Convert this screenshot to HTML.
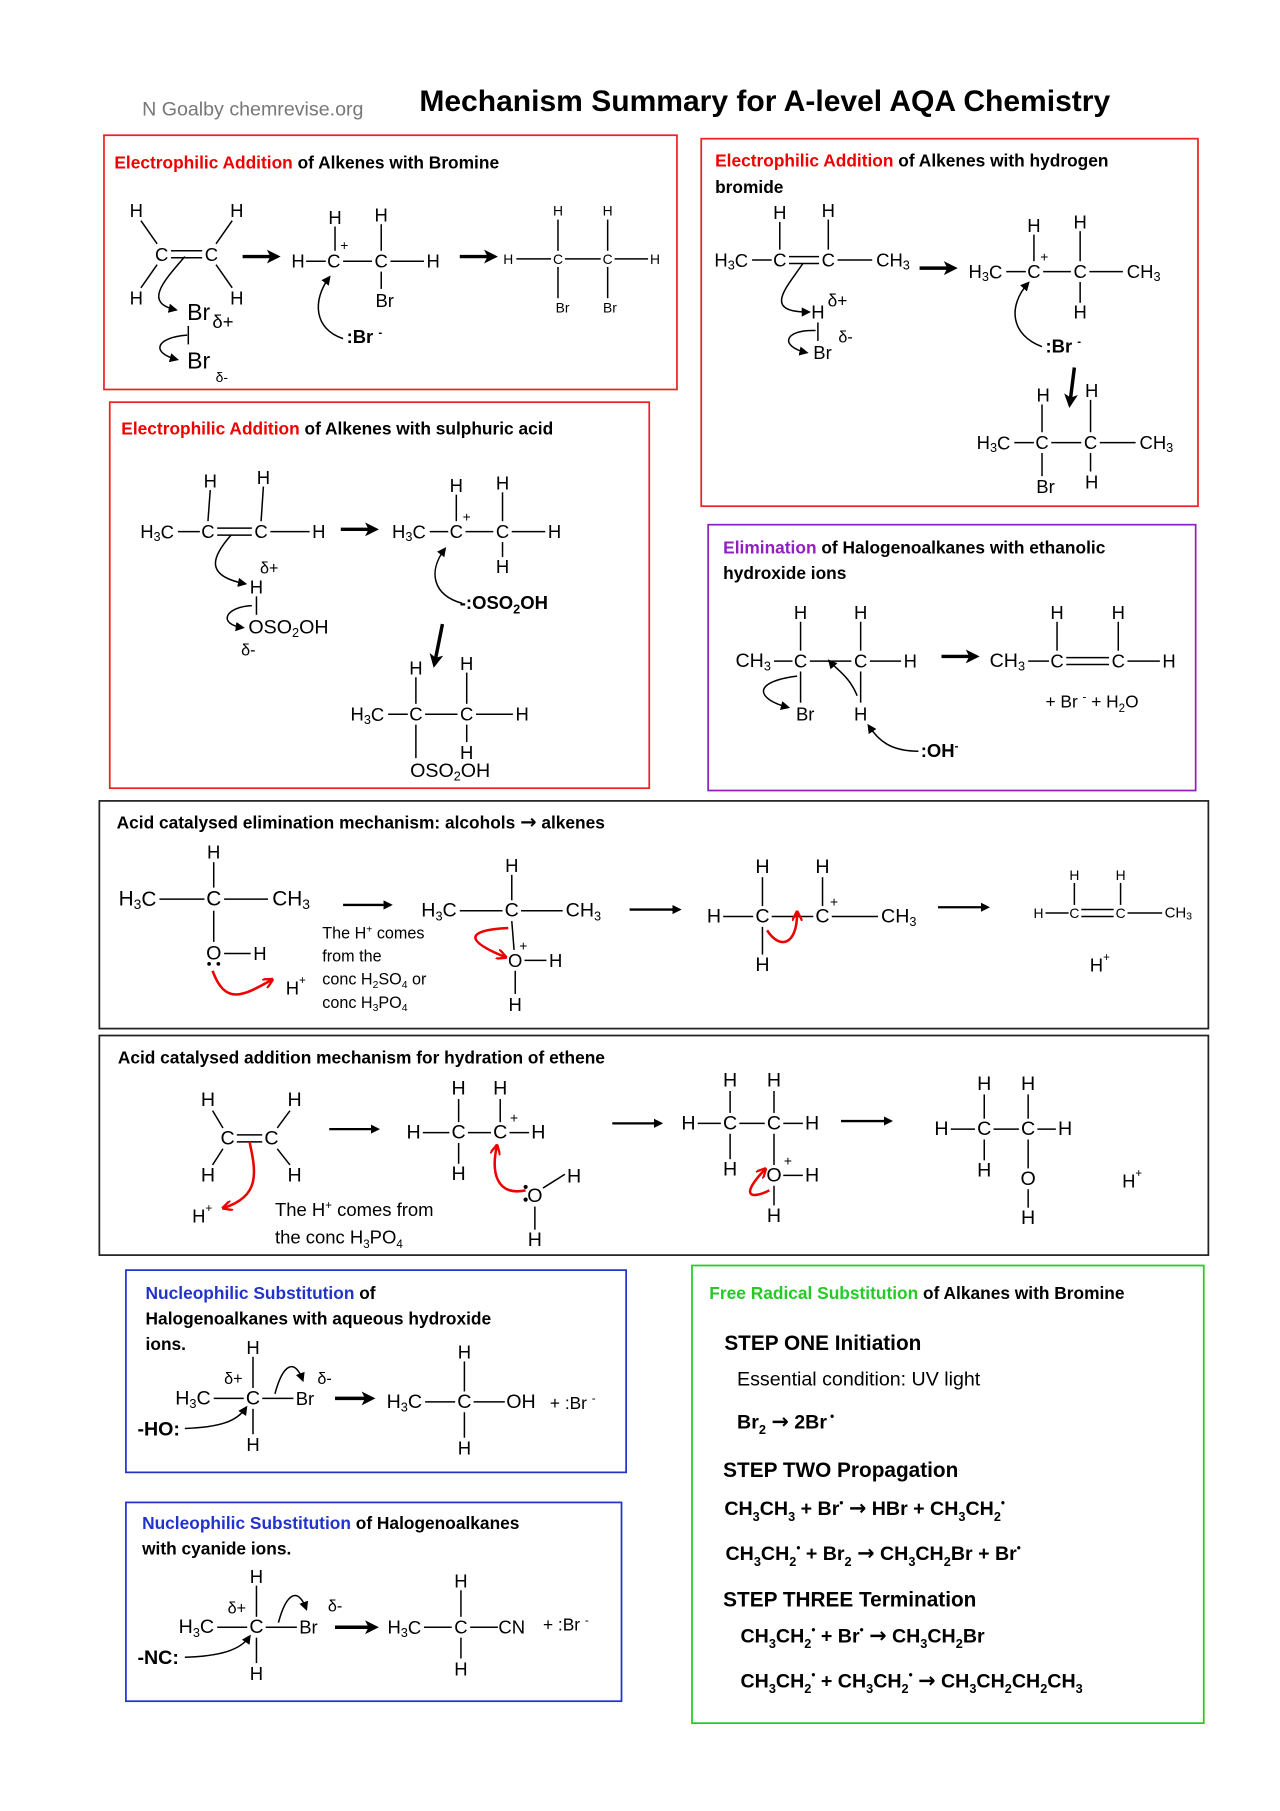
<!DOCTYPE html>
<html><head><meta charset="utf-8"><style>
html,body{margin:0;padding:0;background:#fff}
svg{display:block}
text{font-family:"Liberation Sans",sans-serif;fill:#000}
.a{font-size:16px;text-anchor:middle;dominant-baseline:central}
.s{font-size:12px;text-anchor:middle;dominant-baseline:central}
.h{font-size:15px;font-weight:bold}
.n{font-size:14px}
.b{font-size:17px;font-weight:bold}
.ar{font-family:"DejaVu Sans",sans-serif}
line,path{stroke:#000;stroke-width:1.3;fill:none}
.r{stroke:#e00;stroke-width:2.2}
.k{stroke-width:3}
</style></head><body>
<svg width="1280" height="1811" viewBox="0 0 1108 1567" preserveAspectRatio="none" xmlns="http://www.w3.org/2000/svg">
<defs>
<marker id="m" markerWidth="8" markerHeight="8" refX="6" refY="4" orient="auto" markerUnits="userSpaceOnUse"><path d="M0,0 L8,4 L0,8 z" style="fill:#000;stroke:none"/></marker>
<marker id="mr" markerWidth="9" markerHeight="9" refX="7" refY="4.5" orient="auto" markerUnits="userSpaceOnUse"><path d="M0,0 L9,4.5 L0,9" style="stroke:#e00;stroke-width:2;fill:none"/></marker>
<marker id="mb" markerWidth="12" markerHeight="12" refX="9" refY="6" orient="auto" markerUnits="userSpaceOnUse"><path d="M0,0 L12,6 L0,12 L3,6 z" style="fill:#000;stroke:none"/></marker>
</defs>
<text x="123" y="100" style="font-size:17px;fill:#777">N Goalby chemrevise.org</text>
<text x="363" y="96" style="font-size:26px;font-weight:bold" textLength="598">Mechanism Summary for A-level AQA Chemistry</text>

<!-- boxes -->
<rect x="90" y="117" width="496" height="220" style="fill:none;stroke:#e22;stroke-width:1.5"/>
<rect x="607" y="120" width="430" height="318" style="fill:none;stroke:#e22;stroke-width:1.5"/>
<rect x="95" y="348" width="467" height="334" style="fill:none;stroke:#e22;stroke-width:1.5"/>
<rect x="613" y="454" width="422" height="230" style="fill:none;stroke:#9020c0;stroke-width:1.5"/>
<rect x="86" y="693" width="960" height="197" style="fill:none;stroke:#222;stroke-width:1.5"/>
<rect x="86" y="896" width="960" height="190" style="fill:none;stroke:#222;stroke-width:1.5"/>
<rect x="109" y="1099" width="433" height="175" style="fill:none;stroke:#2233cc;stroke-width:1.5"/>
<rect x="109" y="1300" width="429" height="172" style="fill:none;stroke:#2233cc;stroke-width:1.5"/>
<rect x="599" y="1095" width="443" height="396" style="fill:none;stroke:#2c2;stroke-width:1.5"/>

<!-- Box1 -->
<text x="99" y="146" class="h"><tspan style="fill:#e00">Electrophilic Addition</tspan> of Alkenes with Bromine</text>
<text x="118" y="182" class="a">H</text><text x="205" y="182" class="a">H</text>
<text x="140" y="220" class="a">C</text><text x="183" y="220" class="a">C</text>
<text x="118" y="258" class="a">H</text><text x="205" y="258" class="a">H</text>
<line x1="148" y1="217" x2="175" y2="217"/><line x1="148" y1="223" x2="175" y2="223"/>
<line x1="122" y1="191" x2="136" y2="211"/><line x1="201" y1="191" x2="187" y2="211"/>
<line x1="122" y1="249" x2="136" y2="229"/><line x1="201" y1="249" x2="187" y2="229"/>
<path d="M160,222 C140,245 125,262 152,268" marker-end="url(#m)"/>
<text x="172" y="270" style="font-size:20px;text-anchor:middle;dominant-baseline:central">Br</text>
<text x="193" y="278" class="a">δ+</text>
<line x1="163" y1="282" x2="163" y2="298"/>
<text x="172" y="312" style="font-size:20px;text-anchor:middle;dominant-baseline:central">Br</text>
<text x="192" y="326" class="s">δ-</text>
<path d="M162,290 C135,292 130,305 153,311" marker-end="url(#m)"/>
<line x1="210" y1="222" x2="240" y2="222" class="k" marker-end="url(#mb)"/>
<text x="258" y="226" class="a">H</text><text x="289" y="226" class="a">C</text><text x="330" y="226" class="a">C</text><text x="375" y="226" class="a">H</text>
<text x="298" y="212" class="s">+</text>
<line x1="265" y1="226" x2="282" y2="226"/><line x1="297" y1="226" x2="322" y2="226"/><line x1="338" y1="226" x2="367" y2="226"/>
<text x="290" y="188" class="a">H</text><text x="330" y="186" class="a">H</text><text x="333" y="260" class="a">Br</text>
<line x1="290" y1="196" x2="290" y2="217"/><line x1="330" y1="194" x2="330" y2="217"/><line x1="330" y1="235" x2="330" y2="250"/>
<text x="300" y="297" class="b" style="font-size:16px">:Br <tspan dy="-6" style="font-size:10px">-</tspan></text>
<path d="M297,293 C272,285 270,260 285,240" marker-end="url(#m)"/>
<line x1="398" y1="222" x2="428" y2="222" class="k" marker-end="url(#mb)"/>
<text x="440" y="224" class="s">H</text><text x="483" y="224" class="s">C</text><text x="526" y="224" class="s">C</text><text x="567" y="224" class="s">H</text>
<line x1="447" y1="224" x2="477" y2="224"/><line x1="489" y1="224" x2="520" y2="224"/><line x1="532" y1="224" x2="561" y2="224"/>
<text x="483" y="182" class="s">H</text><text x="526" y="182" class="s">H</text>
<text x="487" y="266" class="s">Br</text><text x="528" y="266" class="s">Br</text>
<line x1="483" y1="190" x2="483" y2="217"/><line x1="526" y1="190" x2="526" y2="217"/>
<line x1="483" y1="231" x2="483" y2="258"/><line x1="526" y1="231" x2="526" y2="258"/>

<!-- Box2 -->
<text x="619" y="144" class="h"><tspan style="fill:#e00">Electrophilic Addition</tspan> of Alkenes with hydrogen</text>
<text x="619" y="167" class="h">bromide</text>
<text x="633" y="225" class="a">H<tspan dy="4" style="font-size:11px">3</tspan><tspan dy="-4">C</tspan></text>
<text x="675" y="225" class="a">C</text><text x="717" y="225" class="a">C</text><text x="773" y="225" class="a">CH<tspan dy="4" style="font-size:11px">3</tspan></text>
<line x1="651" y1="225" x2="668" y2="225"/><line x1="683" y1="222" x2="709" y2="222"/><line x1="683" y1="228" x2="709" y2="228"/><line x1="725" y1="225" x2="755" y2="225"/>
<text x="675" y="184" class="a">H</text><text x="717" y="182" class="a">H</text>
<line x1="675" y1="192" x2="675" y2="216"/><line x1="717" y1="190" x2="717" y2="216"/>
<path d="M695,228 C680,250 660,270 700,270" marker-end="url(#m)"/>
<text x="708" y="270" class="a">H</text><text x="725" y="260" class="a" style="font-size:15px">δ+</text>
<line x1="708" y1="279" x2="708" y2="295"/>
<text x="712" y="305" class="a">Br</text><text x="732" y="292" class="a" style="font-size:14px">δ-</text>
<path d="M706,286 C678,285 675,300 698,305" marker-end="url(#m)"/>
<line x1="796" y1="232" x2="826" y2="232" class="k" marker-end="url(#mb)"/>
<text x="853" y="235" class="a">H<tspan dy="4" style="font-size:11px">3</tspan><tspan dy="-4">C</tspan></text>
<text x="895" y="235" class="a">C</text><text x="935" y="235" class="a">C</text><text x="990" y="235" class="a">CH<tspan dy="4" style="font-size:11px">3</tspan></text>
<text x="904" y="222" class="s">+</text>
<line x1="871" y1="235" x2="888" y2="235"/><line x1="903" y1="235" x2="927" y2="235"/><line x1="943" y1="235" x2="972" y2="235"/>
<text x="895" y="195" class="a">H</text><text x="935" y="192" class="a">H</text><text x="935" y="270" class="a">H</text>
<line x1="895" y1="203" x2="895" y2="226"/><line x1="935" y1="200" x2="935" y2="226"/><line x1="935" y1="244" x2="935" y2="262"/>
<text x="905" y="305" class="b" style="font-size:16px">:Br <tspan dy="-6" style="font-size:10px">-</tspan></text>
<path d="M902,300 C875,290 872,265 890,245" marker-end="url(#m)"/>
<line x1="930" y1="318" x2="926" y2="350" class="k" marker-end="url(#mb)"/>
<text x="903" y="342" class="a">H</text><text x="945" y="338" class="a">H</text>
<text x="860" y="383" class="a">H<tspan dy="4" style="font-size:11px">3</tspan><tspan dy="-4">C</tspan></text>
<text x="902" y="383" class="a">C</text><text x="944" y="383" class="a">C</text><text x="1001" y="383" class="a">CH<tspan dy="4" style="font-size:11px">3</tspan></text>
<line x1="878" y1="383" x2="895" y2="383"/><line x1="910" y1="383" x2="936" y2="383"/><line x1="952" y1="383" x2="983" y2="383"/>
<line x1="902" y1="350" x2="902" y2="374"/><line x1="944" y1="346" x2="944" y2="374"/><line x1="902" y1="392" x2="902" y2="412"/><line x1="944" y1="392" x2="944" y2="408"/>
<text x="905" y="421" class="a">Br</text><text x="945" y="417" class="a">H</text>

<!-- Box3 -->
<text x="105" y="376" class="h"><tspan style="fill:#e00">Electrophilic Addition</tspan> of Alkenes with sulphuric acid</text>
<text x="182" y="416" class="a">H</text><text x="228" y="413" class="a">H</text>
<text x="136" y="460" class="a">H<tspan dy="4" style="font-size:11px">3</tspan><tspan dy="-4">C</tspan></text>
<text x="180" y="460" class="a">C</text><text x="226" y="460" class="a">C</text><text x="276" y="460" class="a">H</text>
<line x1="154" y1="460" x2="173" y2="460"/><line x1="188" y1="457" x2="218" y2="457"/><line x1="188" y1="463" x2="218" y2="463"/><line x1="234" y1="460" x2="268" y2="460"/>
<line x1="182" y1="424" x2="180" y2="451"/><line x1="228" y1="421" x2="226" y2="451"/>
<line x1="295" y1="458" x2="325" y2="458" class="k" marker-end="url(#mb)"/>
<text x="354" y="460" class="a">H<tspan dy="4" style="font-size:11px">3</tspan><tspan dy="-4">C</tspan></text>
<text x="395" y="460" class="a">C</text><text x="435" y="460" class="a">C</text><text x="480" y="460" class="a">H</text>
<text x="404" y="447" class="s">+</text>
<line x1="372" y1="460" x2="388" y2="460"/><line x1="403" y1="460" x2="427" y2="460"/><line x1="443" y1="460" x2="472" y2="460"/>
<text x="395" y="420" class="a">H</text><text x="435" y="418" class="a">H</text><text x="435" y="490" class="a">H</text>
<line x1="395" y1="428" x2="395" y2="451"/><line x1="435" y1="426" x2="435" y2="451"/><line x1="435" y1="469" x2="435" y2="482"/>
<path d="M200,463 C185,480 175,498 212,505" marker-end="url(#m)"/>
<text x="233" y="492" class="a" style="font-size:14px">δ+</text>
<text x="222" y="508" class="a">H</text>
<line x1="222" y1="516" x2="222" y2="532"/>
<path d="M218,524 C195,525 188,540 210,543" marker-end="url(#m)"/>
<text x="215" y="543" style="font-size:17px;dominant-baseline:central">OSO<tspan dy="4" style="font-size:11px">2</tspan><tspan dy="-4">OH</tspan></text>
<text x="215" y="563" class="a" style="font-size:14px">δ-</text>
<text x="398" y="527" class="b" style="font-size:16px">-:OSO<tspan dy="4" style="font-size:11px">2</tspan><tspan dy="-4">OH</tspan></text>
<path d="M400,522 C375,515 370,495 385,475" marker-end="url(#m)"/>
<line x1="383" y1="540" x2="376" y2="575" class="k" marker-end="url(#mb)"/>
<text x="360" y="578" class="a">H</text><text x="404" y="574" class="a">H</text>
<text x="318" y="618" class="a">H<tspan dy="4" style="font-size:11px">3</tspan><tspan dy="-4">C</tspan></text>
<text x="360" y="618" class="a">C</text><text x="404" y="618" class="a">C</text><text x="452" y="618" class="a">H</text>
<line x1="336" y1="618" x2="353" y2="618"/><line x1="368" y1="618" x2="396" y2="618"/><line x1="412" y1="618" x2="444" y2="618"/>
<line x1="360" y1="586" x2="360" y2="609"/><line x1="404" y1="582" x2="404" y2="609"/><line x1="360" y1="627" x2="360" y2="656"/><line x1="404" y1="627" x2="404" y2="642"/>
<text x="404" y="651" class="a">H</text>
<text x="355" y="667" style="font-size:17px;dominant-baseline:central">OSO<tspan dy="4" style="font-size:11px">2</tspan><tspan dy="-4">OH</tspan></text>

<!-- Box4 -->
<text x="626" y="479" class="h"><tspan style="fill:#9020c0">Elimination</tspan> of Halogenoalkanes with ethanolic</text>
<text x="626" y="501" class="h">hydroxide ions</text>
<text x="693" y="530" class="a">H</text><text x="745" y="530" class="a">H</text>
<text x="652" y="572" class="a" style="font-size:17px">CH<tspan dy="4" style="font-size:11px">3</tspan></text>
<text x="693" y="572" class="a">C</text><text x="745" y="572" class="a">C</text><text x="788" y="572" class="a">H</text>
<line x1="670" y1="572" x2="686" y2="572"/><line x1="701" y1="572" x2="737" y2="572"/><line x1="753" y1="572" x2="780" y2="572"/>
<line x1="693" y1="538" x2="693" y2="563"/><line x1="745" y1="538" x2="745" y2="563"/><line x1="693" y1="581" x2="693" y2="608"/><line x1="745" y1="581" x2="745" y2="608"/>
<text x="697" y="618" class="a">Br</text><text x="745" y="618" class="a">H</text>
<path d="M690,585 C650,590 655,605 682,612" marker-end="url(#m)"/>
<path d="M742,602 C735,585 725,580 718,572" marker-end="url(#m)"/>
<text x="797" y="655" class="b" style="font-size:16px">:OH<tspan dy="-6" style="font-size:10px">-</tspan></text>
<path d="M795,650 C770,650 760,640 752,628" marker-end="url(#m)"/>
<line x1="815" y1="568" x2="845" y2="568" class="k" marker-end="url(#mb)"/>
<text x="872" y="572" class="a" style="font-size:17px">CH<tspan dy="4" style="font-size:11px">3</tspan></text>
<text x="915" y="572" class="a">C</text><text x="968" y="572" class="a">C</text><text x="1012" y="572" class="a">H</text>
<line x1="890" y1="572" x2="908" y2="572"/><line x1="923" y1="569" x2="960" y2="569"/><line x1="923" y1="575" x2="960" y2="575"/><line x1="976" y1="572" x2="1004" y2="572"/>
<text x="915" y="530" class="a">H</text><text x="968" y="530" class="a">H</text>
<line x1="915" y1="538" x2="915" y2="563"/><line x1="968" y1="538" x2="968" y2="563"/>
<text x="905" y="612" style="font-size:15px">+ Br <tspan dy="-6" style="font-size:10px">-</tspan><tspan dy="6"> + H</tspan><tspan dy="4" style="font-size:10px">2</tspan><tspan dy="-4">O</tspan></text>

<!-- Box5 -->
<text x="101" y="717" class="h">Acid catalysed elimination mechanism: alcohols <tspan class="ar" style="font-size:17px">→</tspan> alkenes</text>
<text x="185" y="737" class="a">H</text>
<text x="119" y="778" class="a" style="font-size:18px">H<tspan dy="4" style="font-size:12px">3</tspan><tspan dy="-4">C</tspan></text>
<text x="185" y="778" class="a" style="font-size:18px">C</text>
<text x="252" y="778" class="a" style="font-size:18px">CH<tspan dy="4" style="font-size:12px">3</tspan></text>
<line x1="138" y1="778" x2="177" y2="778"/><line x1="194" y1="778" x2="232" y2="778"/>
<line x1="185" y1="746" x2="185" y2="768"/><line x1="185" y1="788" x2="185" y2="815"/>
<text x="185" y="825" class="a" style="font-size:17px">O</text><text x="225" y="825" class="a">H</text>
<line x1="194" y1="825" x2="217" y2="825"/>
<circle cx="181" cy="834" r="1.6"/><circle cx="189" cy="834" r="1.6"/>
<path d="M184,840 C195,870 210,862 235,848" class="r" marker-end="url(#mr)"/>
<text x="256" y="855" class="a">H<tspan dy="-6" style="font-size:10px">+</tspan></text>
<line x1="297" y1="783" x2="338" y2="783" style="stroke-width:2" marker-end="url(#m)"/>
<text x="279" y="812" class="n">The H<tspan dy="-5" style="font-size:9px">+</tspan><tspan dy="5"> comes</tspan></text>
<text x="279" y="832" class="n">from the</text>
<text x="279" y="852" class="n">conc H<tspan dy="3" style="font-size:9px">2</tspan><tspan dy="-3">SO</tspan><tspan dy="3" style="font-size:9px">4</tspan><tspan dy="-3"> or</tspan></text>
<text x="279" y="872" class="n">conc H<tspan dy="3" style="font-size:9px">3</tspan><tspan dy="-3">PO</tspan><tspan dy="3" style="font-size:9px">4</tspan></text>
<text x="380" y="788" class="a" style="font-size:17px">H<tspan dy="4" style="font-size:11px">3</tspan><tspan dy="-4">C</tspan></text>
<text x="443" y="788" class="a" style="font-size:17px">C</text>
<text x="505" y="788" class="a" style="font-size:17px">CH<tspan dy="4" style="font-size:11px">3</tspan></text>
<line x1="398" y1="788" x2="435" y2="788"/><line x1="451" y1="788" x2="487" y2="788"/>
<text x="443" y="749" class="a">H</text>
<line x1="443" y1="757" x2="443" y2="779"/><line x1="443" y1="797" x2="445" y2="822"/>
<text x="446" y="831" class="a">O</text><text x="453" y="818" class="s">+</text><text x="481" y="831" class="a">H</text>
<line x1="454" y1="831" x2="473" y2="831"/><line x1="446" y1="840" x2="446" y2="860"/>
<text x="446" y="869" class="a">H</text>
<path d="M440,803 C400,805 405,815 437,828" class="r" marker-end="url(#mr)"/>
<line x1="545" y1="787" x2="588" y2="787" style="stroke-width:2" marker-end="url(#m)"/>
<text x="660" y="750" class="a" style="font-size:17px">H</text><text x="712" y="750" class="a" style="font-size:17px">H</text>
<text x="618" y="793" class="a" style="font-size:17px">H</text><text x="660" y="793" class="a" style="font-size:17px">C</text><text x="712" y="793" class="a" style="font-size:17px">C</text>
<text x="722" y="780" class="s">+</text>
<text x="778" y="793" class="a" style="font-size:17px">CH<tspan dy="4" style="font-size:11px">3</tspan></text>
<line x1="626" y1="793" x2="652" y2="793"/><line x1="668" y1="793" x2="704" y2="793"/><line x1="720" y1="793" x2="760" y2="793"/>
<line x1="660" y1="759" x2="660" y2="784"/><line x1="712" y1="759" x2="712" y2="784"/><line x1="660" y1="802" x2="660" y2="826"/>
<text x="660" y="835" class="a" style="font-size:17px">H</text>
<path d="M664,805 C675,822 690,818 690,790" class="r" marker-end="url(#mr)"/>
<line x1="812" y1="785" x2="855" y2="785" style="stroke-width:2" marker-end="url(#m)"/>
<text x="930" y="757" class="s">H</text><text x="970" y="757" class="s">H</text>
<text x="899" y="790" class="s">H</text><text x="930" y="790" class="s">C</text><text x="970" y="790" class="s">C</text><text x="1020" y="790" class="s" style="font-size:13px">CH<tspan dy="3" style="font-size:9px">3</tspan></text>
<line x1="905" y1="790" x2="925" y2="790"/><line x1="936" y1="787" x2="964" y2="787"/><line x1="936" y1="793" x2="964" y2="793"/><line x1="976" y1="790" x2="1006" y2="790"/>
<line x1="930" y1="764" x2="930" y2="783"/><line x1="970" y1="764" x2="970" y2="783"/>
<text x="952" y="835" class="a">H<tspan dy="-6" style="font-size:10px">+</tspan></text>

<!-- Box6 -->
<text x="102" y="920" class="h">Acid catalysed addition mechanism for hydration of ethene</text>
<text x="180" y="952" class="a" style="font-size:17px">H</text><text x="255" y="952" class="a" style="font-size:17px">H</text>
<text x="197" y="985" class="a" style="font-size:17px">C</text><text x="235" y="985" class="a" style="font-size:17px">C</text>
<text x="180" y="1017" class="a" style="font-size:17px">H</text><text x="255" y="1017" class="a" style="font-size:17px">H</text>
<line x1="205" y1="982" x2="227" y2="982"/><line x1="205" y1="988" x2="227" y2="988"/>
<line x1="184" y1="961" x2="193" y2="976"/><line x1="251" y1="961" x2="240" y2="976"/>
<line x1="184" y1="1008" x2="193" y2="994"/><line x1="251" y1="1008" x2="240" y2="994"/>
<path d="M216,988 C222,1015 225,1035 194,1045" class="r" marker-end="url(#mr)"/>
<text x="175" y="1052" class="a">H<tspan dy="-6" style="font-size:10px">+</tspan></text>
<line x1="285" y1="977" x2="327" y2="977" style="stroke-width:2" marker-end="url(#m)"/>
<text x="238" y="1052" style="font-size:16px">The H<tspan dy="-6" style="font-size:10px">+</tspan><tspan dy="6"> comes from</tspan></text>
<text x="238" y="1076" style="font-size:16px">the conc H<tspan dy="4" style="font-size:10px">3</tspan><tspan dy="-4">PO</tspan><tspan dy="4" style="font-size:10px">4</tspan></text>
<text x="397" y="942" class="a" style="font-size:17px">H</text><text x="433" y="942" class="a" style="font-size:17px">H</text>
<text x="358" y="980" class="a" style="font-size:17px">H</text><text x="397" y="980" class="a" style="font-size:17px">C</text><text x="433" y="980" class="a" style="font-size:17px">C</text><text x="466" y="980" class="a" style="font-size:17px">H</text>
<text x="445" y="967" class="s">+</text>
<line x1="366" y1="980" x2="389" y2="980"/><line x1="405" y1="980" x2="425" y2="980"/><line x1="441" y1="980" x2="458" y2="980"/>
<line x1="397" y1="951" x2="397" y2="971"/><line x1="433" y1="951" x2="433" y2="971"/><line x1="397" y1="989" x2="397" y2="1007"/>
<text x="397" y="1016" class="a" style="font-size:17px">H</text>
<path d="M455,1030 C430,1035 425,1015 430,992" class="r" marker-end="url(#mr)"/>
<text x="463" y="1035" class="a" style="font-size:17px">O</text><circle cx="455" cy="1027" r="1.8" style="fill:#000"/><circle cx="455" cy="1038" r="1.8" style="fill:#000"/>
<line x1="470" y1="1028" x2="489" y2="1016"/><text x="497" y="1018" class="a" style="font-size:17px">H</text>
<line x1="463" y1="1044" x2="463" y2="1064"/><text x="463" y="1073" class="a" style="font-size:17px">H</text>
<line x1="530" y1="972" x2="572" y2="972" style="stroke-width:2" marker-end="url(#m)"/>
<text x="632" y="935" class="a" style="font-size:17px">H</text><text x="670" y="935" class="a" style="font-size:17px">H</text>
<text x="596" y="972" class="a" style="font-size:17px">H</text><text x="632" y="972" class="a" style="font-size:17px">C</text><text x="670" y="972" class="a" style="font-size:17px">C</text><text x="703" y="972" class="a" style="font-size:17px">H</text>
<line x1="604" y1="972" x2="624" y2="972"/><line x1="640" y1="972" x2="662" y2="972"/><line x1="678" y1="972" x2="695" y2="972"/>
<line x1="632" y1="944" x2="632" y2="963"/><line x1="670" y1="944" x2="670" y2="963"/><line x1="632" y1="981" x2="632" y2="1003"/><line x1="670" y1="981" x2="670" y2="1008"/>
<text x="632" y="1012" class="a" style="font-size:17px">H</text>
<text x="670" y="1017" class="a" style="font-size:17px">O</text><text x="682" y="1004" class="s">+</text><text x="703" y="1017" class="a" style="font-size:17px">H</text>
<line x1="678" y1="1017" x2="695" y2="1017"/><line x1="670" y1="1026" x2="670" y2="1043"/>
<text x="670" y="1052" class="a" style="font-size:17px">H</text>
<path d="M666,1030 C650,1038 640,1035 662,1012" class="r" marker-end="url(#mr)"/>
<line x1="728" y1="970" x2="771" y2="970" style="stroke-width:2" marker-end="url(#m)"/>
<text x="852" y="938" class="a" style="font-size:17px">H</text><text x="890" y="938" class="a" style="font-size:17px">H</text>
<text x="815" y="977" class="a" style="font-size:17px">H</text><text x="852" y="977" class="a" style="font-size:17px">C</text><text x="890" y="977" class="a" style="font-size:17px">C</text><text x="922" y="977" class="a" style="font-size:17px">H</text>
<line x1="823" y1="977" x2="844" y2="977"/><line x1="860" y1="977" x2="882" y2="977"/><line x1="898" y1="977" x2="914" y2="977"/>
<line x1="852" y1="947" x2="852" y2="968"/><line x1="890" y1="947" x2="890" y2="968"/><line x1="852" y1="986" x2="852" y2="1004"/><line x1="890" y1="986" x2="890" y2="1011"/>
<text x="852" y="1013" class="a" style="font-size:17px">H</text>
<text x="890" y="1020" class="a" style="font-size:17px">O</text>
<line x1="890" y1="1029" x2="890" y2="1045"/><text x="890" y="1054" class="a" style="font-size:17px">H</text>
<text x="980" y="1022" class="a">H<tspan dy="-6" style="font-size:10px">+</tspan></text>

<!-- Box7 -->
<text x="126" y="1124" class="h"><tspan style="fill:#2233cc">Nucleophilic Substitution</tspan> of</text>
<text x="126" y="1146" class="h">Halogenoalkanes with aqueous hydroxide</text>
<text x="126" y="1168" class="h">ions.</text>
<text x="219" y="1166" class="a">H</text>
<text x="202" y="1193" class="a" style="font-size:14px">δ+</text><text x="281" y="1193" class="a" style="font-size:14px">δ-</text>
<text x="167" y="1210" class="a" style="font-size:17px">H<tspan dy="4" style="font-size:11px">3</tspan><tspan dy="-4">C</tspan></text>
<text x="219" y="1210" class="a" style="font-size:17px">C</text><text x="264" y="1210" class="a">Br</text>
<line x1="185" y1="1210" x2="211" y2="1210"/><line x1="227" y1="1210" x2="254" y2="1210"/>
<line x1="219" y1="1174" x2="219" y2="1201"/><line x1="219" y1="1219" x2="219" y2="1241"/>
<text x="219" y="1250" class="a">H</text>
<path d="M238,1206 C245,1180 255,1175 262,1194" marker-end="url(#m)"/>
<text x="119" y="1242" class="b">-HO:</text>
<path d="M160,1236 C190,1235 205,1230 213,1218" marker-end="url(#m)"/>
<line x1="290" y1="1210" x2="322" y2="1210" class="k" marker-end="url(#mb)"/>
<text x="402" y="1170" class="a">H</text>
<text x="350" y="1213" class="a" style="font-size:17px">H<tspan dy="4" style="font-size:11px">3</tspan><tspan dy="-4">C</tspan></text>
<text x="402" y="1213" class="a" style="font-size:17px">C</text><text x="451" y="1213" class="a" style="font-size:17px">OH</text>
<line x1="368" y1="1213" x2="394" y2="1213"/><line x1="410" y1="1213" x2="437" y2="1213"/>
<line x1="402" y1="1178" x2="402" y2="1204"/><line x1="402" y1="1222" x2="402" y2="1244"/>
<text x="402" y="1253" class="a">H</text>
<text x="476" y="1219" style="font-size:15px">+ :Br <tspan dy="-6" style="font-size:10px">-</tspan></text>

<!-- Box8 -->
<text x="123" y="1323" class="h"><tspan style="fill:#2233cc">Nucleophilic Substitution</tspan> of Halogenoalkanes</text>
<text x="123" y="1345" class="h">with cyanide ions.</text>
<text x="222" y="1364" class="a">H</text>
<text x="205" y="1392" class="a" style="font-size:14px">δ+</text><text x="290" y="1390" class="a" style="font-size:14px">δ-</text>
<text x="170" y="1408" class="a" style="font-size:17px">H<tspan dy="4" style="font-size:11px">3</tspan><tspan dy="-4">C</tspan></text>
<text x="222" y="1408" class="a" style="font-size:17px">C</text><text x="267" y="1408" class="a">Br</text>
<line x1="188" y1="1408" x2="214" y2="1408"/><line x1="230" y1="1408" x2="257" y2="1408"/>
<line x1="222" y1="1372" x2="222" y2="1399"/><line x1="222" y1="1417" x2="222" y2="1439"/>
<text x="222" y="1448" class="a">H</text>
<path d="M241,1404 C248,1378 258,1373 265,1392" marker-end="url(#m)"/>
<text x="119" y="1440" class="b">-NC:</text>
<path d="M160,1434 C190,1433 208,1428 216,1416" marker-end="url(#m)"/>
<line x1="290" y1="1408" x2="325" y2="1408" class="k" marker-end="url(#mb)"/>
<text x="399" y="1368" class="a">H</text>
<text x="350" y="1408" class="a">H<tspan dy="4" style="font-size:11px">3</tspan><tspan dy="-4">C</tspan></text>
<text x="399" y="1408" class="a">C</text><text x="443" y="1408" class="a">CN</text>
<line x1="367" y1="1408" x2="391" y2="1408"/><line x1="407" y1="1408" x2="431" y2="1408"/>
<line x1="399" y1="1376" x2="399" y2="1399"/><line x1="399" y1="1417" x2="399" y2="1435"/>
<text x="399" y="1444" class="a">H</text>
<text x="470" y="1411" style="font-size:15px">+ :Br <tspan dy="-6" style="font-size:10px">-</tspan></text>

<!-- Box9 -->
<text x="614" y="1124" class="h"><tspan style="fill:#2c2">Free Radical Substitution</tspan> of Alkanes with Bromine</text>
<text x="627" y="1168" class="b" style="font-size:18px">STEP ONE Initiation</text>
<text x="638" y="1199" style="font-size:17px">Essential condition: UV light</text>
<text x="638" y="1236" class="b">Br<tspan dy="5" style="font-size:11px">2</tspan><tspan dy="-5">  </tspan><tspan class="ar" style="font-size:18px">→</tspan><tspan>  2Br</tspan><tspan dy="-7" style="font-size:10px"> •</tspan></text>
<text x="626" y="1278" class="b" style="font-size:18px">STEP TWO Propagation</text>
<text x="627" y="1311" class="b">CH<tspan dy="5" style="font-size:11px">3</tspan><tspan dy="-5">CH</tspan><tspan dy="5" style="font-size:11px">3</tspan><tspan dy="-5"> + Br</tspan><tspan dy="-7" style="font-size:10px">•</tspan><tspan dy="7"> </tspan><tspan class="ar" style="font-size:18px">→</tspan><tspan> HBr + CH</tspan><tspan dy="5" style="font-size:11px">3</tspan><tspan dy="-5">CH</tspan><tspan dy="5" style="font-size:11px">2</tspan><tspan dy="-12" style="font-size:10px">•</tspan></text>
<text x="628" y="1350" class="b">CH<tspan dy="5" style="font-size:11px">3</tspan><tspan dy="-5">CH</tspan><tspan dy="5" style="font-size:11px">2</tspan><tspan dy="-12" style="font-size:10px">•</tspan><tspan dy="7"> + Br</tspan><tspan dy="5" style="font-size:11px">2</tspan><tspan dy="-5">  </tspan><tspan class="ar" style="font-size:18px">→</tspan><tspan> CH</tspan><tspan dy="5" style="font-size:11px">3</tspan><tspan dy="-5">CH</tspan><tspan dy="5" style="font-size:11px">2</tspan><tspan dy="-5">Br  + Br</tspan><tspan dy="-7" style="font-size:10px">•</tspan></text>
<text x="626" y="1390" class="b" style="font-size:18px">STEP THREE Termination</text>
<text x="641" y="1421" class="b">CH<tspan dy="5" style="font-size:11px">3</tspan><tspan dy="-5">CH</tspan><tspan dy="5" style="font-size:11px">2</tspan><tspan dy="-12" style="font-size:10px">•</tspan><tspan dy="7">  + Br</tspan><tspan dy="-7" style="font-size:10px">•</tspan><tspan dy="7"> </tspan><tspan class="ar" style="font-size:18px">→</tspan><tspan> CH</tspan><tspan dy="5" style="font-size:11px">3</tspan><tspan dy="-5">CH</tspan><tspan dy="5" style="font-size:11px">2</tspan><tspan dy="-5">Br</tspan></text>
<text x="641" y="1460" class="b">CH<tspan dy="5" style="font-size:11px">3</tspan><tspan dy="-5">CH</tspan><tspan dy="5" style="font-size:11px">2</tspan><tspan dy="-12" style="font-size:10px">•</tspan><tspan dy="7">  + CH</tspan><tspan dy="5" style="font-size:11px">3</tspan><tspan dy="-5">CH</tspan><tspan dy="5" style="font-size:11px">2</tspan><tspan dy="-12" style="font-size:10px">•</tspan><tspan dy="7"> </tspan><tspan class="ar" style="font-size:18px">→</tspan><tspan> CH</tspan><tspan dy="5" style="font-size:11px">3</tspan><tspan dy="-5">CH</tspan><tspan dy="5" style="font-size:11px">2</tspan><tspan dy="-5">CH</tspan><tspan dy="5" style="font-size:11px">2</tspan><tspan dy="-5">CH</tspan><tspan dy="5" style="font-size:11px">3</tspan></text>
</svg>
</body></html>
